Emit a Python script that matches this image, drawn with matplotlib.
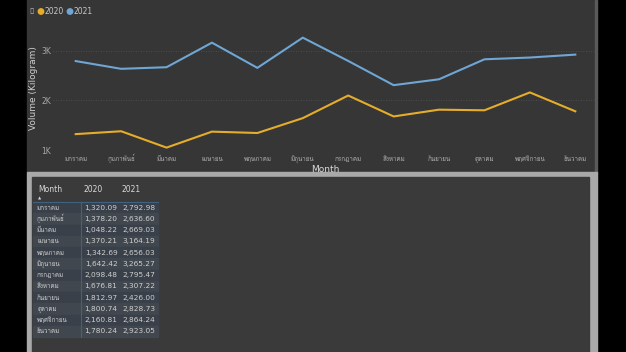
import matplotlib
matplotlib.use("Agg")
import matplotlib.pyplot as plt
from matplotlib import font_manager
from matplotlib.ft2font import FT2Font
from matplotlib.patches import Rectangle, Circle

months = ["มกราคม", "กุมภาพันธ์", "มีนาคม", "เมษายน", "พฤษภาคม", "มิถุนายน",
          "กรกฎาคม", "สิงหาคม", "กันยายน", "ตุลาคม", "พฤศจิกายน", "ธันวาคม"]
vol_2020 = [1320.09, 1378.20, 1048.22, 1370.21, 1342.69, 1642.42,
            2098.48, 1676.81, 1812.97, 1800.74, 2160.81, 1780.24]
vol_2021 = [2792.98, 2636.60, 2669.03, 3164.19, 2656.03, 3265.27,
            2795.47, 2307.22, 2426.00, 2828.73, 2864.24, 2923.05]
series = ["2020", "2021"]
y_ticks = [1000, 2000, 3000]
y_tick_labels = ["1K", "2K", "3K"]

# look for any installed font with Thai glyphs
thai_font = None
for f in font_manager.fontManager.ttflist:
    try:
        if 0x0E01 in FT2Font(f.fname).get_charmap():
            thai_font = f.name
            break
    except Exception:
        pass
fams = ["DejaVu Sans"] + ([thai_font] if thai_font else [])
plt.rcParams["font.family"] = fams

c2020 = "#e6ad2b"
c2021 = "#6fa6d4"
panel = "#363636"

W, H = 626, 352
fig = plt.figure(figsize=(6.26, 3.52), dpi=100)
fig.patch.set_facecolor("black")

def fx(x):
    return x / W

def fy(y):
    return 1 - y / H

# background panels in pixel coordinates
bg = fig.add_axes([0, 0, 1, 1], zorder=-1)
bg.set_xlim(0, W)
bg.set_ylim(H, 0)
bg.axis("off")
bg.add_patch(Rectangle((27, 0), 568, 172, color=panel))
bg.add_patch(Rectangle((595, 0), 2, 172, color="#5a5a5a"))
bg.add_patch(Rectangle((27, 172), 570, 180, color="#a9a9a9"))
bg.add_patch(Rectangle((32, 177), 557, 175, color="#3a3a3a"))

# line chart
ax = fig.add_axes([fx(53), fy(150), fx(545), (150 - 26) / H], zorder=1)
ax.set_facecolor("none")
x = range(len(months))
ax.plot(x, vol_2020, color=c2020, lw=1.5, label=series[0])
ax.plot(x, vol_2021, color=c2021, lw=1.5, label=series[1])
ax.set_xlim(-0.5, 11.5)
ax.set_ylim(1000, 3500)
ax.set_yticks(y_ticks)
ax.set_yticklabels(y_tick_labels)
ax.set_xticks(list(x))
ax.set_xticklabels(months)
ax.tick_params(axis="y", length=0, pad=1.5, labelsize=5.5, labelcolor="#a8a8a8")
ax.tick_params(axis="x", length=0, pad=8, labelsize=4.5, labelcolor="#b0b0b0")
for lab in ax.get_xticklabels():
    lab.set_va("baseline")
for s in ax.spines.values():
    s.set_visible(False)
for yv in y_ticks[1:]:
    ax.axhline(yv, color="#545454", lw=0.6, ls=(0, (1, 2)), zorder=0)
ax.set_xlabel("Month", fontsize=6.5, color="#dcdcdc", labelpad=1)

# overlay for legend, axis title and table
tx = fig.add_axes([0, 0, 1, 1], zorder=2)
tx.set_xlim(0, W)
tx.set_ylim(H, 0)
tx.axis("off")
tx.patch.set_alpha(0)

tx.text(33, 88, "Volume (Kilogram)", rotation=90, ha="center", va="center",
        fontsize=6.5, color="#cfcfcf")

tx.text(31, 11, "▯", fontsize=5.5, color="#c0c0c0", ha="center", va="center")
lx = 41
for name, col in zip(series, [c2020, c2021]):
    tx.add_patch(Circle((lx, 11.5), 2.7, color=col))
    tx.text(lx + 3.5, 11.5, name, fontsize=5.5, color="#c8c8c8", va="center")
    lx += 29

tx.text(38, 189, "Month", fontsize=5.5, color="#d8d8d8", va="center")
tx.text(84, 189, series[0], fontsize=5.5, color="#d8d8d8", va="center")
tx.text(121, 189, series[1], fontsize=5.5, color="#d8d8d8", va="center")
tx.text(40, 198, "▲", fontsize=3, color="#d8d8d8", va="center", ha="center")
row_h = 11.25
top = 202
for i, m in enumerate(months):
    y0 = top + i * row_h
    rc = "#394049" if i % 2 == 0 else "#41474e"
    tx.add_patch(Rectangle((33, y0), 125, row_h, color=rc, zorder=1))
    yc = y0 + row_h / 2
    tx.text(37, yc + 2, m, fontsize=4.5, color="#d0d0d0", va="baseline", zorder=2)
    tx.text(117.5, yc, f"{vol_2020[i]:,.2f}", fontsize=5.3, color="#cfcfcf", va="center",
            ha="right", zorder=2)
    tx.text(155.5, yc, f"{vol_2021[i]:,.2f}", fontsize=5.3, color="#cfcfcf", va="center",
            ha="right", zorder=2)
tx.plot([33, 158], [top, top], color="#3f6280", lw=0.8, zorder=3)
tx.plot([80.5, 80.5], [top, top + 12 * row_h], color="#3f6280", lw=0.8, zorder=3)

fig.savefig("out.png", dpi=100, facecolor=fig.get_facecolor())
